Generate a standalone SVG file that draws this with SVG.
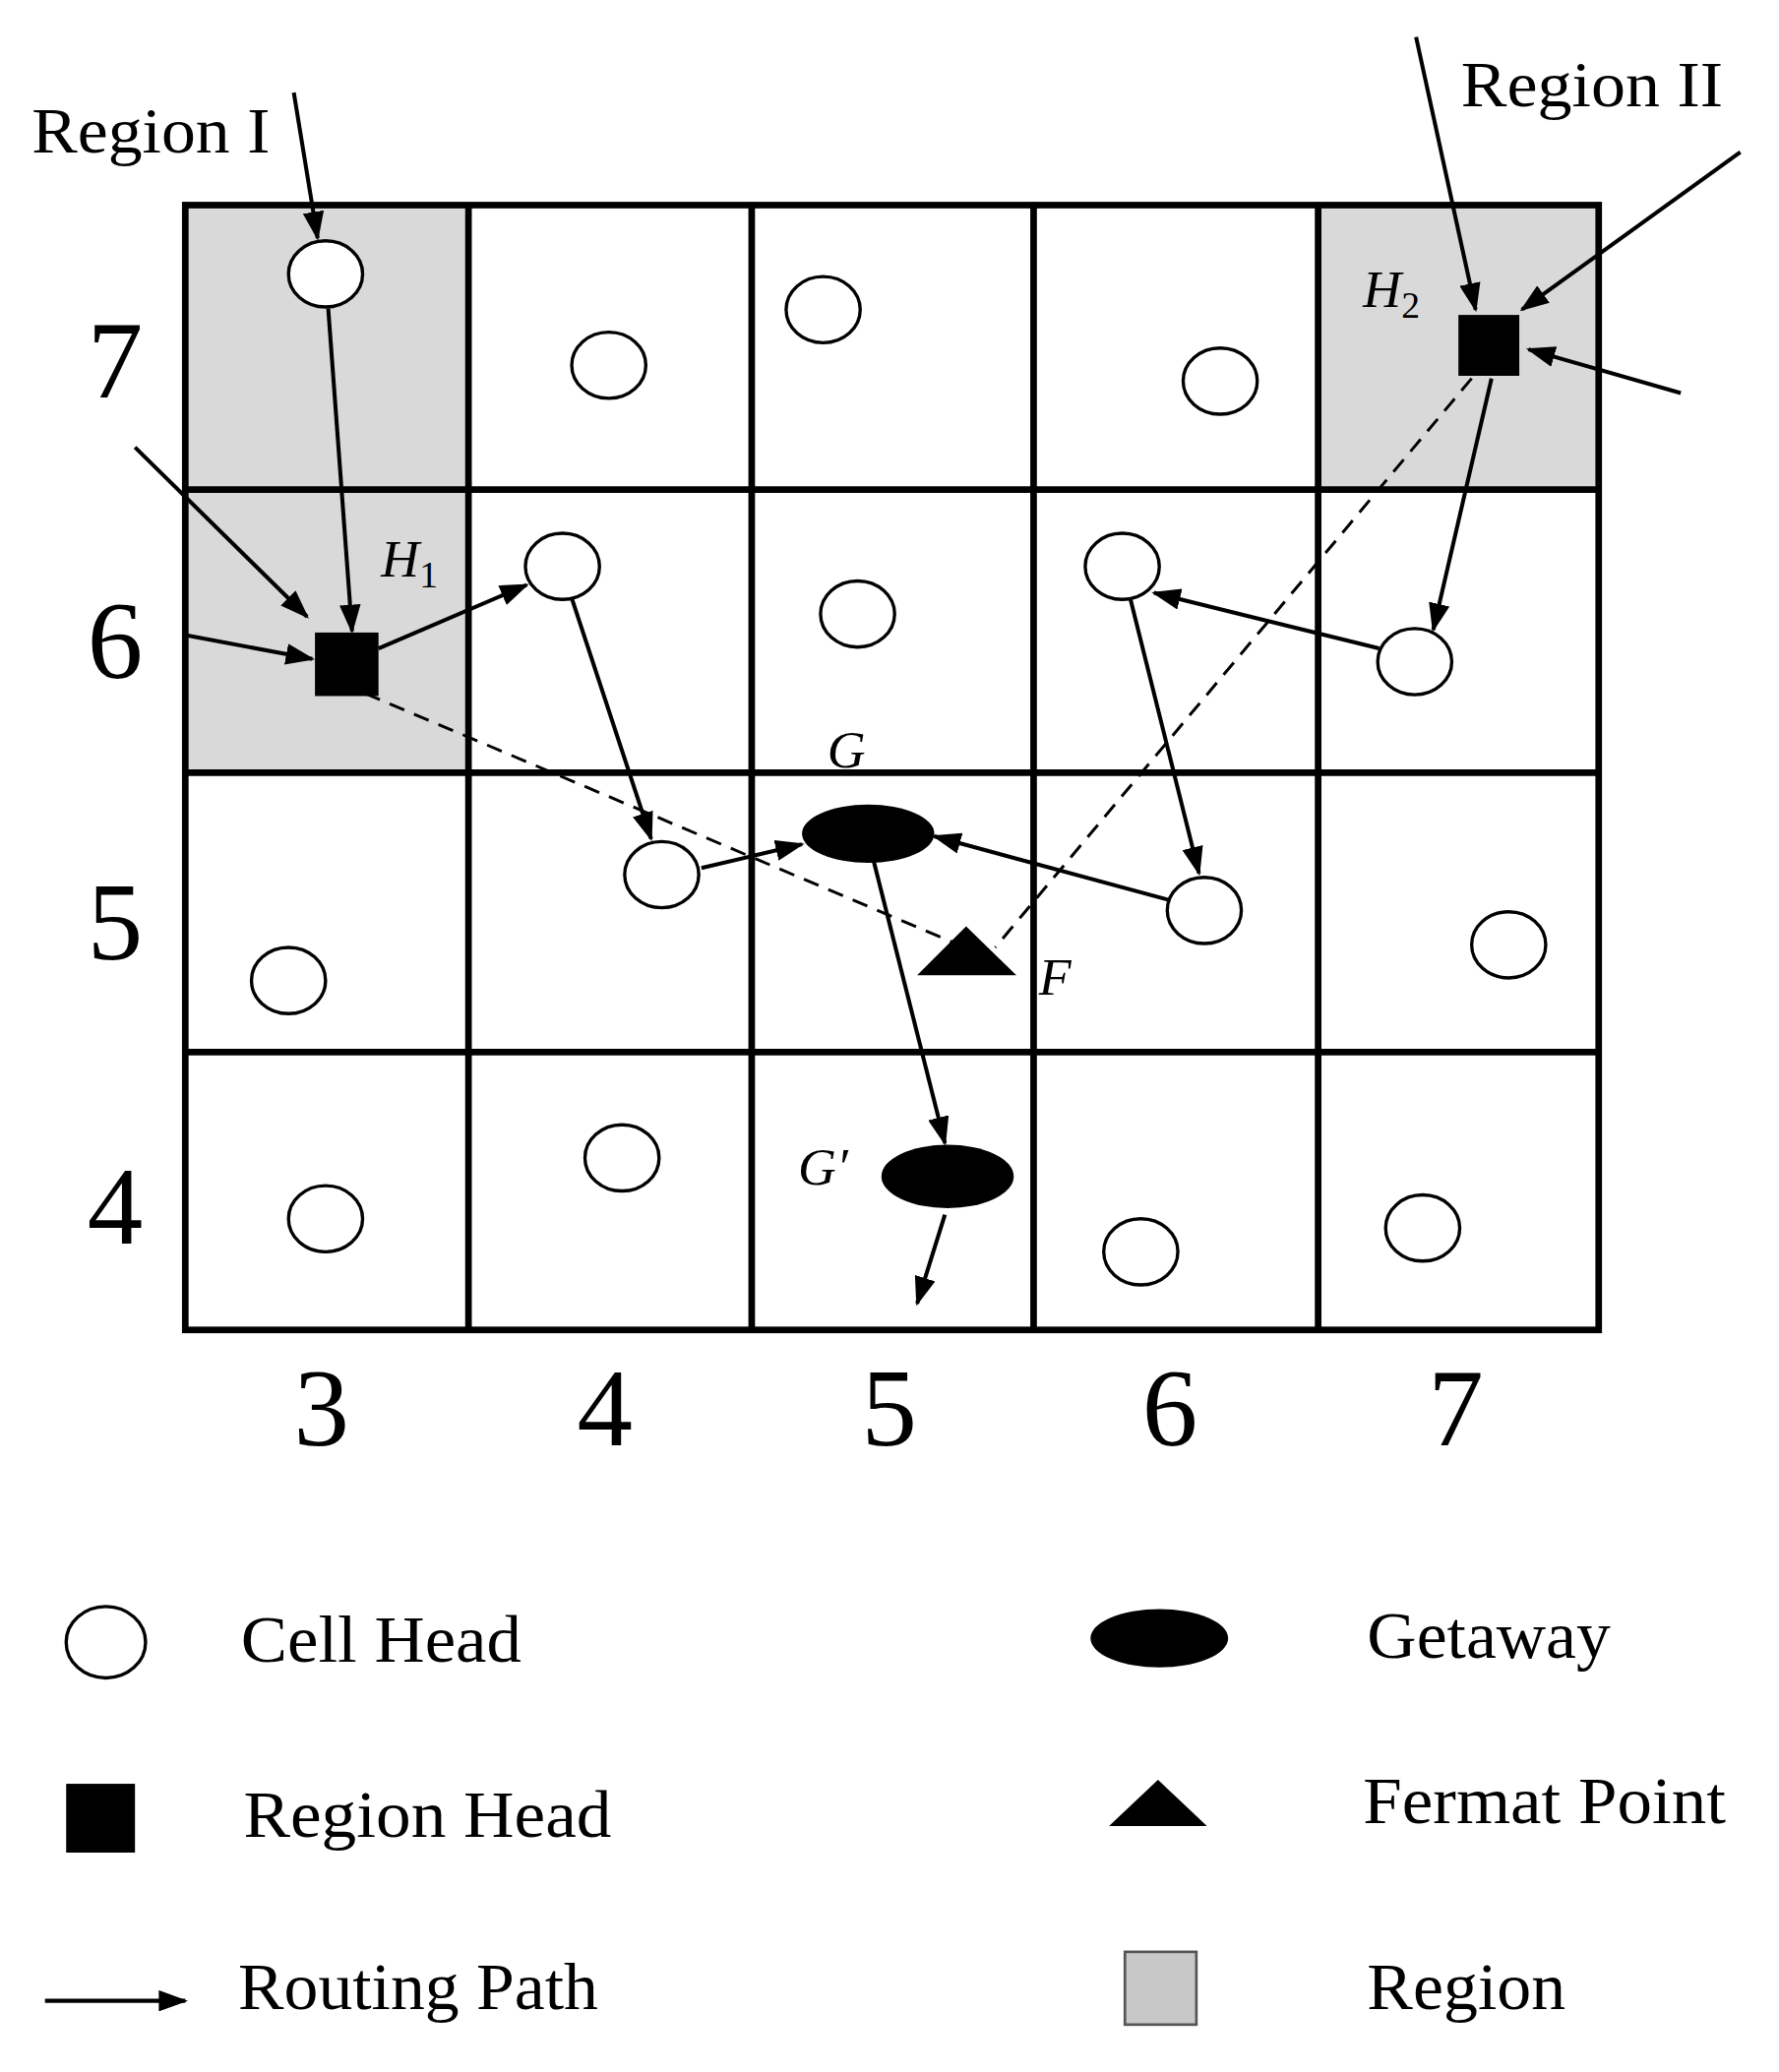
<svg xmlns="http://www.w3.org/2000/svg" width="1808" height="2106" viewBox="0 0 1808 2106">
<defs>
<style>
.t{font-family:"Liberation Serif",serif;fill:#000}
.c{fill:#fff;stroke:#000;stroke-width:2.5}
.a{stroke:#000;stroke-width:3;fill:none}
.d{stroke:#000;stroke-width:2.2;stroke-dasharray:12,8;fill:none}
.g{stroke:#000;stroke-width:5;fill:none}
</style>
<marker id="m" markerWidth="22" markerHeight="16" refX="20" refY="8" orient="auto" markerUnits="userSpaceOnUse"><path d="M0,0 L22,8 L0,16 z" fill="#000"/></marker>
</defs>
<rect width="1808" height="2106" fill="#fff"/>
<g transform="scale(1.345)">
<g id="grid">
<rect x="140" y="155" width="214" height="429" fill="#d9d9d9"/>
<rect x="996" y="155" width="212" height="215" fill="#d9d9d9"/>
<rect x="140" y="155" width="1068" height="850" class="g"/>
<path class="g" d="M354,155V1005M568,155V1005M781,155V1005M996,155V1005M140,370H1208M140,584H1208M140,795H1208"/>
</g>
<g id="axis" class="t" font-size="84" text-anchor="middle">
<text x="87" y="300">7</text><text x="87" y="512">6</text><text x="87" y="725">5</text><text x="87" y="940">4</text>
<text x="243" y="1092">3</text><text x="457" y="1092">4</text><text x="672" y="1092">5</text><text x="884" y="1092">6</text><text x="1100" y="1092">7</text>
</g>
<g id="cells">
<ellipse class="c" cx="246" cy="207" rx="28" ry="25"/><ellipse class="c" cx="460" cy="276" rx="28" ry="25"/>
<ellipse class="c" cx="622" cy="234" rx="28" ry="25"/><ellipse class="c" cx="922" cy="288" rx="28" ry="25"/>
<ellipse class="c" cx="425" cy="428" rx="28" ry="25"/><ellipse class="c" cx="648" cy="464" rx="28" ry="25"/>
<ellipse class="c" cx="848" cy="428" rx="28" ry="25"/><ellipse class="c" cx="1069" cy="500" rx="28" ry="25"/>
<ellipse class="c" cx="500" cy="661" rx="28" ry="25"/><ellipse class="c" cx="910" cy="688" rx="28" ry="25"/>
<ellipse class="c" cx="1140" cy="714" rx="28" ry="25"/><ellipse class="c" cx="218" cy="741" rx="28" ry="25"/>
<ellipse class="c" cx="470" cy="875" rx="28" ry="25"/><ellipse class="c" cx="246" cy="921" rx="28" ry="25"/>
<ellipse class="c" cx="862" cy="946" rx="28" ry="25"/><ellipse class="c" cx="1075" cy="928" rx="28" ry="25"/>
</g>
<g id="connectors">
<path class="d" d="M276,524L748,724"/><path class="d" d="M1112,286L752,716"/>
<path class="a" marker-end="url(#m)" d="M222,70L240,180"/>
<path class="a" marker-end="url(#m)" d="M248,233L266,477"/>
<path class="a" marker-end="url(#m)" d="M102,338L232,466"/>
<path class="a" marker-end="url(#m)" d="M140,480L236,498"/>
<path class="a" marker-end="url(#m)" d="M286,490L398,442"/>
<path class="a" marker-end="url(#m)" d="M432,452L492,634"/>
<path class="a" marker-end="url(#m)" d="M530,656L606,638"/>
<path class="a" marker-end="url(#m)" d="M883,680L706,632"/>
<path class="a" marker-end="url(#m)" d="M854,452L906,660"/>
<path class="a" marker-end="url(#m)" d="M1042,490L872,448"/>
<path class="a" marker-end="url(#m)" d="M1127,286L1083,476"/>
<path class="a" marker-end="url(#m)" d="M1070,28L1115,234"/>
<path class="a" marker-end="url(#m)" d="M1315,115L1150,234"/>
<path class="a" marker-end="url(#m)" d="M1270,297L1155,264"/>
<path class="a" marker-end="url(#m)" d="M660,650L714,864"/>
<path class="a" marker-end="url(#m)" d="M714,918L693,985"/>
</g>
<g id="H1"><rect x="238" y="478" width="48" height="48" fill="#000"/><text class="t" x="288" y="436" font-size="40" font-style="italic">H<tspan font-size="28" font-style="normal" dy="8">1</tspan></text></g>
<g id="H2"><rect x="1102" y="238" width="46" height="46" fill="#000"/><text class="t" x="1030" y="232" font-size="40" font-style="italic">H<tspan font-size="28" font-style="normal" dy="8">2</tspan></text></g>
<g id="G"><ellipse cx="656" cy="630" rx="50" ry="22" fill="#000"/><text class="t" x="625" y="580" font-size="40" font-style="italic">G</text></g>
<g id="G2"><ellipse cx="716" cy="889" rx="50" ry="24" fill="#000"/><text class="t" x="603" y="895" font-size="40" font-style="italic">G′</text></g>
<g id="F"><polygon points="693,737 768,737 730,700" fill="#000"/><text class="t" x="785" y="752" font-size="40" font-style="italic">F</text></g>
<g id="labels" class="t" font-size="48">
<text x="24" y="115" textLength="180" lengthAdjust="spacingAndGlyphs">Region I</text><text x="1104" y="80" textLength="198" lengthAdjust="spacingAndGlyphs">Region II</text>
</g>
<g id="legend" class="t" font-size="50">
<ellipse class="c" cx="80" cy="1241" rx="30" ry="27"/><text x="182" y="1256" textLength="212" lengthAdjust="spacingAndGlyphs">Cell Head</text>
<rect x="50" y="1348" width="52" height="52" fill="#000"/><text x="184" y="1388" textLength="278" lengthAdjust="spacingAndGlyphs">Region Head</text>
<path class="a" marker-end="url(#m)" d="M34,1512L140,1512"/><text x="180" y="1518" textLength="272" lengthAdjust="spacingAndGlyphs">Routing Path</text>
<ellipse cx="876" cy="1238" rx="52" ry="22" fill="#000"/><text x="1033" y="1253" textLength="184" lengthAdjust="spacingAndGlyphs">Getaway</text>
<polygon points="838,1380 912,1380 875,1345" fill="#000"/><text x="1030" y="1378" textLength="274" lengthAdjust="spacingAndGlyphs">Fermat Point</text>
<rect x="850" y="1475" width="54" height="55" fill="#c8c8c8" stroke="#555" stroke-width="2"/><text x="1033" y="1518" textLength="150" lengthAdjust="spacingAndGlyphs">Region</text>
</g>
</g>
</svg>
